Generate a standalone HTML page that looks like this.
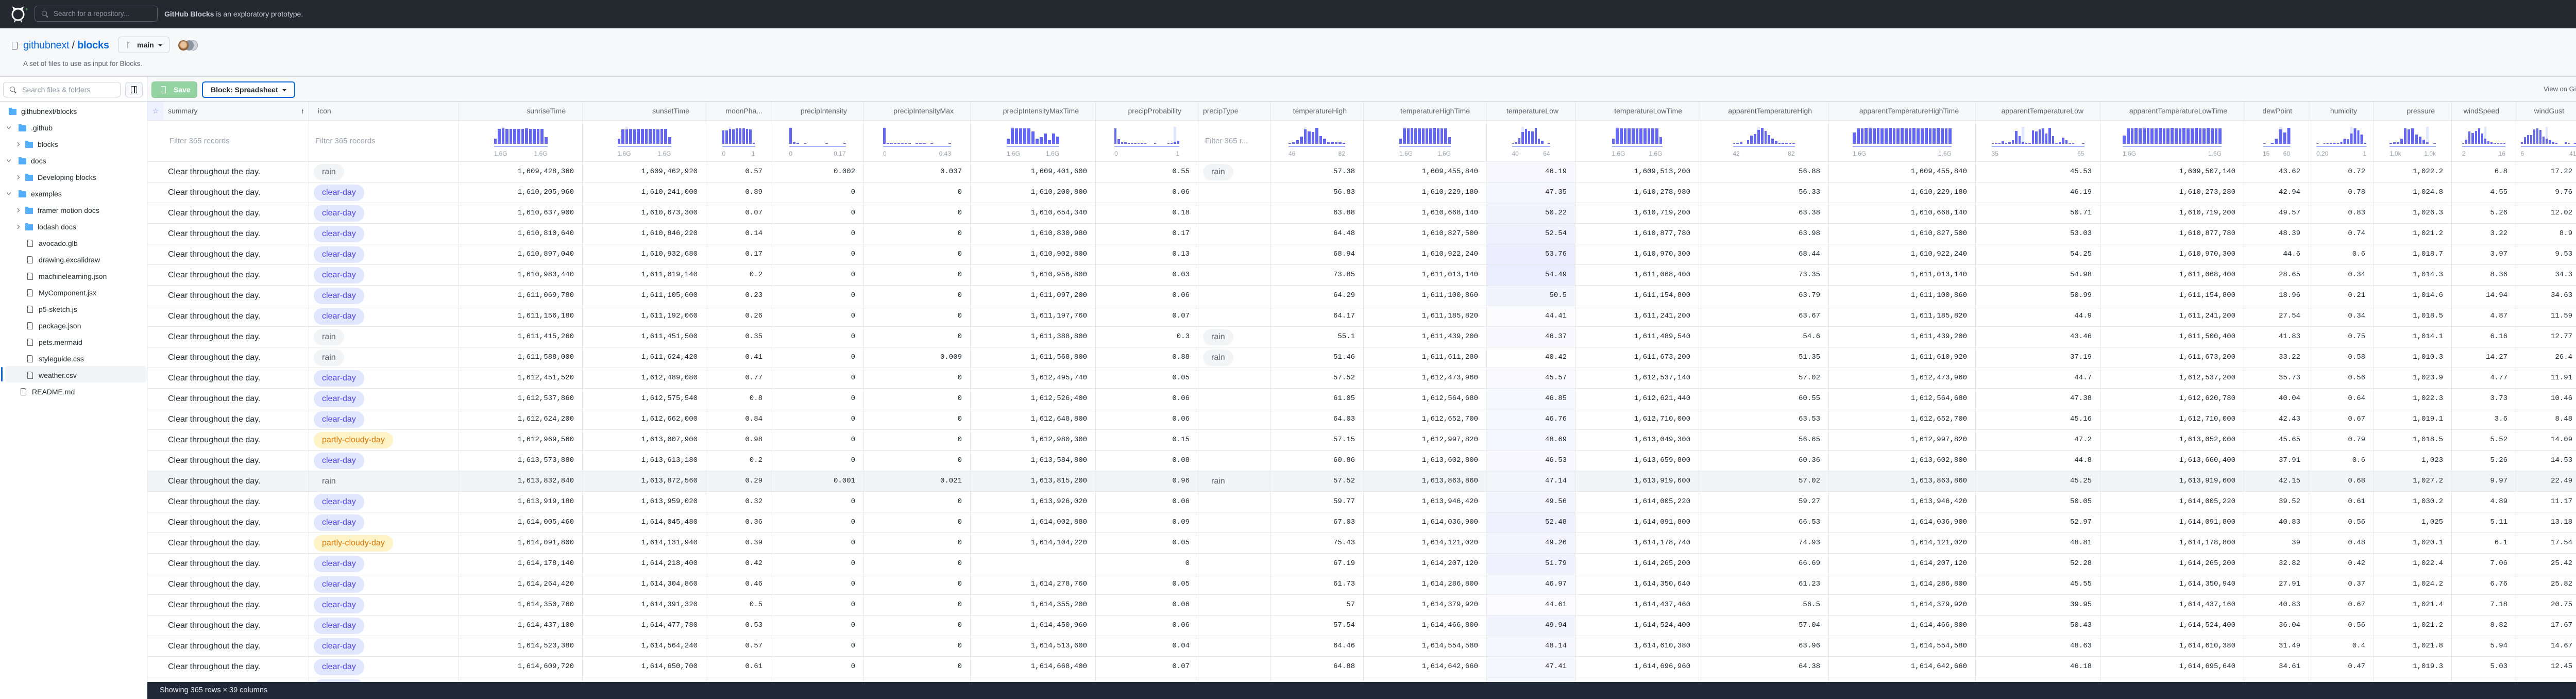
<!DOCTYPE html>
<html><head><meta charset="utf-8"><style>
*{box-sizing:border-box}
html,body{margin:0;width:5113px;height:1356px;overflow:hidden}
body{background:#fff;font-family:"Liberation Sans",sans-serif;color:#24292f;position:relative}
.top{position:absolute;left:0;top:0;width:5113px;height:55px;background:#24292f}
.sbox{position:absolute;left:67px;top:11px;width:239px;height:31px;border:1px solid #57606a;border-radius:6px;color:#8c959f;font-size:13.5px;line-height:29px;padding-left:36px}
.mag{position:absolute;width:10px;height:10px;border:1.5px solid currentColor;border-radius:50%}
.mag:after{content:"";position:absolute;width:5px;height:1.5px;background:currentColor;left:7px;top:9px;transform:rotate(45deg)}
.proto{position:absolute;left:319px;top:18px;font-size:14px;color:#c9d1d9;line-height:18px}
.repo{position:absolute;left:0;top:55px;width:5113px;height:94px;background:#f6f8fa;border-bottom:1px solid #d0d7de}
.title{position:absolute;left:45px;top:20px;font-size:20px;color:#0969da;line-height:26px;letter-spacing:-.3px}
.branch{position:absolute;left:229px;top:16px;width:100px;height:32px;border:1px solid #d0d7de;border-radius:6px;background:#f6f8fa;font-size:14px;font-weight:bold;line-height:30px;padding-left:36px}
.car{display:inline-block;width:0;height:0;border-left:4px solid transparent;border-right:4px solid transparent;border-top:4px solid #24292f;vertical-align:middle;margin-left:8px}
.desc{position:absolute;left:45px;top:60px;font-size:13.5px;color:#57606a;line-height:18px}
.tool{position:absolute;left:286px;top:149px;width:4827px;height:48px;background:#f6f8fa;border-bottom:1px solid #d0d7de}
.side{position:absolute;left:0;top:149px;width:286px;height:1207px;background:#fff;border-right:1px solid #d0d7de}
.sside{position:absolute;left:0;top:0;width:285px;height:48px;border-bottom:1px solid #d0d7de}
.fsearch{position:absolute;left:6px;top:10px;width:228px;height:30px;border:1px solid #d0d7de;border-radius:6px;font-size:14px;color:#8c959f;line-height:28px;padding-left:36px}
.btn{position:absolute;border:1px solid #d0d7de;border-radius:6px;background:#f6f8fa}
.t{position:absolute;height:32px;line-height:32px;font-size:14px;white-space:nowrap}
.fo{position:absolute;width:15px;height:12px;background:#54aeff;border-radius:1px;top:11px}
.fo:before{content:"";position:absolute;left:0;top:-2px;width:6px;height:3px;background:#54aeff;border-radius:1px 1px 0 0}
.fi{position:absolute;width:11px;height:14px;border:1.5px solid #57606a;border-radius:1px 4px 1px 1px;top:9px}
.ch{position:absolute;width:6px;height:6px;border-right:1.5px solid #57606a;border-bottom:1.5px solid #57606a}
.main{position:absolute;left:286px;top:197px;width:4827px;height:1159px;overflow:hidden}
.r{display:flex;height:40px;border-bottom:1px solid #e5e7eb;width:4924px}
.r>span{flex:none;height:100%;border-right:1px solid #e5e7eb;padding:0 16px;text-align:right;white-space:nowrap;overflow:hidden;font:14px/39px "Liberation Mono",monospace;color:#24292f;position:relative}
.r>span:nth-child(1){width:314px;text-align:left;padding-left:40px;font:16px/39px "Liberation Sans",sans-serif}
.r>span:nth-child(2){width:291px;text-align:left;padding-left:9px;font:16px/39px "Liberation Sans",sans-serif}
.r>span:nth-child(3),.r>span:nth-child(4){width:240px}
.r>span:nth-child(5){width:126px}
.r>span:nth-child(6){width:180px}
.r>span:nth-child(7){width:207px}
.r>span:nth-child(8){width:243px}
.r>span:nth-child(9){width:199px}
.r>span:nth-child(10){width:140px;text-align:left;padding-left:9px;font:16px/39px "Liberation Sans",sans-serif}
.r>span:nth-child(11){width:181px}
.r>span:nth-child(12){width:239px}
.r>span:nth-child(13){width:172px}
.r>span:nth-child(14){width:240px}
.r>span:nth-child(15){width:252px}
.r>span:nth-child(16){width:285px}
.r>span:nth-child(17){width:242px}
.r>span:nth-child(18){width:279px}
.r>span:nth-child(19),.r>span:nth-child(20){width:126px}
.r>span:nth-child(21){width:151px}
.r>span:nth-child(22){width:125px}
.r>span:nth-child(23){width:126px}
.r>span:nth-child(24){width:200px}
.hd{height:37px;background:#f6f8fa}
.hd>span{font:14px/36px "Liberation Sans",sans-serif!important;color:#57606a!important;padding-right:32px}
.hd>span:nth-child(1){padding-left:40px}
.hd>span:nth-child(2){padding-left:17px}
.fl{height:80px}
.fl>span{font:15px/79px "Liberation Sans",sans-serif!important;color:#9ca3af!important}
.fl>span:nth-child(1){padding-left:43px}
.fl>span:nth-child(2){padding-left:12px}
.hv{background:#f3f4f6}
em{font-style:normal;display:inline-block;height:32px;line-height:32px;padding:0 16px;border-radius:16px;vertical-align:middle;font-size:16px}
.pr{background:#f3f4f6;color:#57606a}
.pc{background:#e0e7ff;color:#4f46e5}
.pp{background:#fef3c7;color:#d97706}
.h{position:absolute;top:12px;left:50%;transform:translateX(-50%)}
.b{display:flex;align-items:flex-end;gap:2px;height:33px}
.b i{flex:1;background:#6366f1;display:block}
.b i.l{height:33px!important;background:linear-gradient(to top,#6366f1 var(--h),#e0e7ff var(--h))}
.ax{height:2px;background:#a5b4fc;margin-top:4px}
.lb{display:flex;justify-content:space-between;font:12px/14px "Liberation Sans",sans-serif;color:#9ca3af;margin-top:6px}
.foot{position:absolute;left:286px;top:1323px;width:4827px;height:33px;background:#1f2937;color:#e5e7eb;font-size:14.5px;line-height:33px;padding-left:24px}
</style></head><body>
<div class="top">
<svg style="position:absolute;left:16px;top:12px" width="42" height="32" viewBox="0 0 42 32"><circle cx="19" cy="16" r="11" fill="none" stroke="#fff" stroke-width="3"/><path d="M12 8 L10 3 L16 6 M26 8 L28 3 L22 6" stroke="#fff" stroke-width="2.5" fill="none"/><path d="M14 26 L12 31 M24 26 L26 31" stroke="#fff" stroke-width="2"/><text x="33" y="9" fill="#3fb950" font-size="9" font-family="Liberation Sans">+</text></svg>
<div class="sbox"><span class="mag" style="left:13px;top:9px"></span>Search for a repository...</div>
<div class="proto"><b>GitHub Blocks</b> is an exploratory prototype.</div>
</div>
<div class="repo">
<div style="position:absolute;left:23px;top:26px;width:11px;height:15px;border:1.5px solid #57606a;border-radius:2px"></div>
<div class="title">githubnext<span style="color:#24292f"> / </span><b>blocks</b></div>
<div class="branch"><span style="position:absolute;left:15px;top:0;font-weight:normal">ᚴ</span>main<span class="car"></span></div>
<div style="position:absolute;left:366px;top:23px;width:18px;height:20px;border-radius:50%;background:#d1d5db;border:1px solid #9ca3af"></div>
<div style="position:absolute;left:358px;top:23px;width:18px;height:20px;border-radius:50%;background:#8b949e"></div>
<div style="position:absolute;left:346px;top:23px;width:20px;height:20px;border-radius:50%;background:radial-gradient(circle at 50% 45%,#e8c39e 0 35%,#8b5a2b 60%)"></div>
<div class="desc">A set of files to use as input for Blocks.</div>
</div>
<div class="tool">
<div style="position:absolute;left:8px;top:9px;width:89px;height:32px;background:#94d3a2;border:1px solid #8ac798;border-radius:6px;color:#fff;font-weight:bold;font-size:14px;line-height:30px;padding-left:42px">Save<span style="position:absolute;left:17px;top:8px;width:10px;height:14px;border:1.5px solid #fff;border-radius:1px"></span></div>
<div style="position:absolute;left:106px;top:9px;width:181px;height:32px;border:2px solid #0969da;border-radius:6px;background:#fff;font-weight:bold;font-size:14px;line-height:28px;padding-left:15px">Block: Spreadsheet<span class="car"></span></div>
</div>
<div style="position:absolute;left:4937px;top:165px;width:90px;font-size:13px;color:#57606a;line-height:16px;white-space:nowrap;overflow:hidden">View on GitHub</div>
<div class="btn" style="left:5036px;top:160px;width:29px;height:29px"><div style="position:absolute;left:8px;top:8px;width:11px;height:11px;border:2px dashed #24292f"></div></div>
<div class="btn" style="left:5074px;top:160px;width:33px;height:29px"><div style="position:absolute;left:10px;top:7px;width:12px;height:14px;border:1.5px solid #24292f;border-radius:2px"></div><div style="position:absolute;left:16px;top:7px;width:1.5px;height:14px;background:#24292f"></div></div>
<div class="side">
<div class="sside">
<div class="fsearch"><span class="mag" style="left:12px;top:8px;color:#57606a"></span>Search files &amp; folders</div>
<div class="btn" style="left:243px;top:10px;width:34px;height:30px;background:#f6f8fa"><div style="position:absolute;left:10px;top:7px;width:12px;height:14px;border:1.5px solid #24292f;border-radius:2px"></div><div style="position:absolute;left:16px;top:7px;width:1.5px;height:14px;background:#24292f"></div></div>
</div>
<div style="position:absolute;left:10px;top:561px;width:275px;height:32px;background:#f3f4f6;border-radius:6px"></div>
<div style="position:absolute;left:2px;top:563px;width:3px;height:28px;background:#0969da;border-radius:2px"></div>
<div class="t" style="top:51px;left:0"><span class="fo" style="left:17px"></span><span style="position:absolute;left:41px">githubnext/blocks</span></div>
<div class="t" style="top:83px;left:0"><span class="ch" style="left:14px;top:11px;transform:rotate(45deg)"></span><span class="fo" style="left:36px"></span><span style="position:absolute;left:60px">.github</span></div>
<div class="t" style="top:115px;left:0"><span class="ch" style="left:31px;top:13px;transform:rotate(-45deg)"></span><span class="fo" style="left:49px"></span><span style="position:absolute;left:73px">blocks</span></div>
<div class="t" style="top:147px;left:0"><span class="ch" style="left:14px;top:11px;transform:rotate(45deg)"></span><span class="fo" style="left:36px"></span><span style="position:absolute;left:60px">docs</span></div>
<div class="t" style="top:179px;left:0"><span class="ch" style="left:31px;top:13px;transform:rotate(-45deg)"></span><span class="fo" style="left:49px"></span><span style="position:absolute;left:73px">Developing blocks</span></div>
<div class="t" style="top:211px;left:0"><span class="ch" style="left:14px;top:11px;transform:rotate(45deg)"></span><span class="fo" style="left:36px"></span><span style="position:absolute;left:60px">examples</span></div>
<div class="t" style="top:243px;left:0"><span class="ch" style="left:31px;top:13px;transform:rotate(-45deg)"></span><span class="fo" style="left:49px"></span><span style="position:absolute;left:73px">framer motion docs</span></div>
<div class="t" style="top:275px;left:0"><span class="ch" style="left:31px;top:13px;transform:rotate(-45deg)"></span><span class="fo" style="left:49px"></span><span style="position:absolute;left:73px">lodash docs</span></div>
<div class="t" style="top:307px;left:0"><span class="fi" style="left:53px"></span><span style="position:absolute;left:75px">avocado.glb</span></div>
<div class="t" style="top:339px;left:0"><span class="fi" style="left:53px"></span><span style="position:absolute;left:75px">drawing.excalidraw</span></div>
<div class="t" style="top:371px;left:0"><span class="fi" style="left:53px"></span><span style="position:absolute;left:75px">machinelearning.json</span></div>
<div class="t" style="top:403px;left:0"><span class="fi" style="left:53px"></span><span style="position:absolute;left:75px">MyComponent.jsx</span></div>
<div class="t" style="top:435px;left:0"><span class="fi" style="left:53px"></span><span style="position:absolute;left:75px">p5-sketch.js</span></div>
<div class="t" style="top:467px;left:0"><span class="fi" style="left:53px"></span><span style="position:absolute;left:75px">package.json</span></div>
<div class="t" style="top:499px;left:0"><span class="fi" style="left:53px"></span><span style="position:absolute;left:75px">pets.mermaid</span></div>
<div class="t" style="top:531px;left:0"><span class="fi" style="left:53px"></span><span style="position:absolute;left:75px">styleguide.css</span></div>
<div class="t" style="top:563px;left:0"><span class="fi" style="left:53px"></span><span style="position:absolute;left:75px">weather.csv</span></div>
<div class="t" style="top:595px;left:0"><span class="fi" style="left:40px"></span><span style="position:absolute;left:62px">README.md</span></div>
</div>
<div class="main">
<div class="r hd"><span><div style="position:absolute;left:0;top:0;width:32px;height:36px;background:#eef2ff;color:#818cf8;text-align:center;font-size:14px">☆</div>summary<b style="position:absolute;right:8px;top:0;font-weight:normal;color:#24292f">↑</b></span><span>icon</span><span>sunriseTime</span><span>sunsetTime</span><span style="padding-right:16px">moonPha...</span><span>precipIntensity</span><span>precipIntensityMax</span><span>precipIntensityMaxTime</span><span>precipProbability</span><span>precipType</span><span>temperatureHigh</span><span>temperatureHighTime</span><span>temperatureLow</span><span>temperatureLowTime</span><span>apparentTemperatureHigh</span><span>apparentTemperatureHighTime</span><span>apparentTemperatureLow</span><span>apparentTemperatureLowTime</span><span>dewPoint</span><span>humidity</span><span>pressure</span><span>windSpeed</span><span>windGust</span><span></span></div>
<div class="r fl"><span>Filter 365 records</span><span>Filter 365 records</span>
<span><div class="h" style="width:104px"><div class="b"><i style="height:10px"></i><i style="height:29px"></i><i class="l" style="--h:30px"></i><i style="height:29px"></i><i style="height:29px"></i><i style="height:29px"></i><i style="height:29px"></i><i style="height:29px"></i><i style="height:30px"></i><i style="height:29px"></i><i style="height:29px"></i><i style="height:29px"></i><i style="height:29px"></i><i style="height:13px"></i></div><div class="ax"></div><div class="lb"><span>1.6G</span><span>1.6G</span></div></div></span>
<span><div class="h" style="width:104px"><div class="b"><i style="height:10px"></i><i style="height:28px"></i><i class="l" style="--h:28px"></i><i style="height:29px"></i><i style="height:28px"></i><i style="height:29px"></i><i style="height:29px"></i><i style="height:29px"></i><i style="height:29px"></i><i style="height:29px"></i><i style="height:28px"></i><i style="height:29px"></i><i style="height:29px"></i><i style="height:13px"></i></div><div class="ax"></div><div class="lb"><span>1.6G</span><span>1.6G</span></div></div></span>
<span><div class="h" style="width:64px"><div class="b"><i style="height:26px"></i><i style="height:26px"></i><i class="l" style="--h:29px"></i><i style="height:28px"></i><i style="height:30px"></i><i style="height:30px"></i><i style="height:30px"></i><i style="height:29px"></i><i style="height:28px"></i><i style="height:2px"></i></div><div class="ax"></div><div class="lb"><span>0</span><span>1</span></div></div></span>
<span><div class="h" style="width:110px"><div class="b"><i class="l" style="--h:31px"></i><i style="height:3px"></i><i style="height:2px"></i><i style="height:0"></i><i style="height:1px"></i><i style="height:0"></i><i style="height:0"></i><i style="height:0"></i><i style="height:0"></i><i style="height:0"></i><i style="height:1px"></i><i style="height:0"></i><i style="height:0"></i><i style="height:0"></i><i style="height:0"></i><i style="height:1px"></i></div><div class="ax"></div><div class="lb"><span>0</span><span>0.17</span></div></div></span>
<span><div class="h" style="width:132px"><div class="b"><i class="l" style="--h:31px"></i><i style="height:1px"></i><i style="height:1px"></i><i style="height:1px"></i><i style="height:1px"></i><i style="height:1px"></i><i style="height:1px"></i><i style="height:1px"></i><i style="height:0"></i><i style="height:1px"></i><i style="height:1px"></i><i style="height:1px"></i><i style="height:0"></i><i style="height:1px"></i><i style="height:0"></i><i style="height:0"></i><i style="height:0"></i><i style="height:0"></i><i style="height:1px"></i></div><div class="ax"></div><div class="lb"><span>0</span><span>0.43</span></div></div></span>
<span><div class="h" style="width:102px"><div class="b"><i style="height:10px"></i><i class="l" style="--h:30px"></i><i style="height:30px"></i><i style="height:30px"></i><i style="height:30px"></i><i style="height:30px"></i><i style="height:24px"></i><i style="height:10px"></i><i style="height:13px"></i><i style="height:20px"></i><i style="height:7px"></i><i style="height:20px"></i><i style="height:14px"></i></div><div class="ax"></div><div class="lb"><span>1.6G</span><span>1.6G</span></div></div></span>
<span><div class="h" style="width:126px"><div class="b"><i style="height:30px"></i><i style="height:9px"></i><i style="height:3px"></i><i style="height:3px"></i><i style="height:2px"></i><i style="height:2px"></i><i style="height:1px"></i><i style="height:1px"></i><i style="height:1px"></i><i style="height:1px"></i><i style="height:0"></i><i style="height:0"></i><i style="height:1px"></i><i style="height:0"></i><i style="height:0"></i><i style="height:0"></i><i style="height:1px"></i><i style="height:2px"></i><i class="l" style="--h:4px"></i><i style="height:6px"></i></div><div class="ax"></div><div class="lb"><span>0</span><span>1</span></div></div></span>
<span style="padding-left:13px">Filter 365 r...</span>
<span><div class="h" style="width:110px"><div class="b"><i style="height:1px"></i><i style="height:3px"></i><i style="height:7px"></i><i style="height:14px"></i><i class="l" style="--h:28px"></i><i style="height:24px"></i><i style="height:23px"></i><i style="height:31px"></i><i style="height:15px"></i><i style="height:10px"></i><i style="height:3px"></i><i style="height:4px"></i><i style="height:3px"></i><i style="height:3px"></i><i style="height:2px"></i></div><div class="ax"></div><div class="lb"><span>46</span><span>82</span></div></div></span>
<span><div class="h" style="width:100px"><div class="b"><i style="height:10px"></i><i class="l" style="--h:30px"></i><i style="height:30px"></i><i style="height:31px"></i><i style="height:30px"></i><i style="height:30px"></i><i style="height:30px"></i><i style="height:30px"></i><i style="height:30px"></i><i style="height:31px"></i><i style="height:30px"></i><i style="height:30px"></i><i style="height:30px"></i><i style="height:13px"></i></div><div class="ax"></div><div class="lb"><span>1.6G</span><span>1.6G</span></div></div></span>
<span><div class="h" style="width:74px"><div class="b"><i style="height:1px"></i><i style="height:3px"></i><i style="height:11px"></i><i class="l" style="--h:23px"></i><i style="height:29px"></i><i style="height:25px"></i><i style="height:24px"></i><i style="height:31px"></i><i style="height:10px"></i><i style="height:6px"></i><i style="height:0"></i><i style="height:1px"></i></div><div class="ax"></div><div class="lb"><span>40</span><span>64</span></div></div></span>
<span><div class="h" style="width:98px"><div class="b"><i style="height:10px"></i><i class="l" style="--h:30px"></i><i style="height:30px"></i><i style="height:30px"></i><i style="height:30px"></i><i style="height:30px"></i><i style="height:30px"></i><i style="height:30px"></i><i style="height:30px"></i><i style="height:30px"></i><i style="height:30px"></i><i style="height:30px"></i><i style="height:13px"></i></div><div class="ax"></div><div class="lb"><span>1.6G</span><span>1.6G</span></div></div></span>
<span><div class="h" style="width:120px"><div class="b"><i style="height:1px"></i><i style="height:2px"></i><i style="height:3px"></i><i style="height:0"></i><i style="height:7px"></i><i style="height:16px"></i><i style="height:19px"></i><i class="l" style="--h:27px"></i><i style="height:31px"></i><i style="height:25px"></i><i style="height:17px"></i><i style="height:10px"></i><i style="height:6px"></i><i style="height:2px"></i><i style="height:2px"></i><i style="height:2px"></i><i style="height:1px"></i><i style="height:1px"></i></div><div class="ax"></div><div class="lb"><span>42</span><span>82</span></div></div></span>
<span><div class="h" style="width:192px"><div class="b"><i style="height:22px"></i><i style="height:30px"></i><i style="height:30px"></i><i style="height:31px"></i><i class="l" style="--h:30px"></i><i style="height:30px"></i><i style="height:31px"></i><i style="height:30px"></i><i style="height:30px"></i><i style="height:31px"></i><i style="height:30px"></i><i style="height:30px"></i><i style="height:31px"></i><i style="height:30px"></i><i style="height:30px"></i><i style="height:31px"></i><i style="height:30px"></i><i style="height:30px"></i><i style="height:31px"></i><i style="height:30px"></i><i style="height:30px"></i><i style="height:31px"></i><i style="height:30px"></i><i style="height:30px"></i><i style="height:30px"></i></div><div class="ax"></div><div class="lb"><span>1.6G</span><span>1.6G</span></div></div></span>
<span><div class="h" style="width:180px"><div class="b"><i style="height:1px"></i><i style="height:1px"></i><i style="height:2px"></i><i style="height:5px"></i><i style="height:2px"></i><i style="height:3px"></i><i style="height:7px"></i><i style="height:25px"></i><i style="height:15px"></i><i class="l" style="--h:4px"></i><i style="height:2px"></i><i style="height:1px"></i><i style="height:26px"></i><i style="height:24px"></i><i style="height:28px"></i><i style="height:30px"></i><i style="height:20px"></i><i style="height:31px"></i><i style="height:15px"></i><i style="height:1px"></i><i style="height:4px"></i><i style="height:12px"></i><i style="height:7px"></i><i style="height:1px"></i><i style="height:1px"></i><i style="height:0"></i><i style="height:0"></i><i style="height:1px"></i></div><div class="ax"></div><div class="lb"><span>35</span><span>65</span></div></div></span>
<span><div class="h" style="width:192px"><div class="b"><i style="height:16px"></i><i style="height:30px"></i><i style="height:30px"></i><i style="height:31px"></i><i style="height:30px"></i><i class="l" style="--h:30px"></i><i style="height:31px"></i><i style="height:30px"></i><i style="height:30px"></i><i style="height:31px"></i><i style="height:30px"></i><i style="height:30px"></i><i style="height:31px"></i><i style="height:30px"></i><i style="height:30px"></i><i style="height:31px"></i><i style="height:30px"></i><i style="height:30px"></i><i style="height:31px"></i><i style="height:30px"></i><i style="height:30px"></i><i style="height:31px"></i><i style="height:30px"></i><i style="height:30px"></i><i style="height:30px"></i></div><div class="ax"></div><div class="lb"><span>1.6G</span><span>1.6G</span></div></div></span>
<span><div class="h" style="width:53px"><div class="b"><i style="height:1px"></i><i style="height:0"></i><i style="height:2px"></i><i style="height:10px"></i><i class="l" style="--h:28px"></i><i style="height:22px"></i><i style="height:31px"></i></div><div class="ax"></div><div class="lb"><span>15</span><span>60</span></div></div></span>
<span><div class="h" style="width:97px"><div class="b"><i style="height:1px"></i><i style="height:0"></i><i style="height:1px"></i><i style="height:1px"></i><i style="height:2px"></i><i style="height:2px"></i><i style="height:1px"></i><i style="height:4px"></i><i style="height:10px"></i><i style="height:9px"></i><i class="l" style="--h:20px"></i><i style="height:30px"></i><i style="height:26px"></i><i style="height:18px"></i><i style="height:2px"></i></div><div class="ax"></div><div class="lb"><span>0.20</span><span>1</span></div></div></span>
<span><div class="h" style="width:90px"><div class="b"><i style="height:2px"></i><i style="height:3px"></i><i style="height:3px"></i><i style="height:10px"></i><i style="height:30px"></i><i style="height:28px"></i><i style="height:30px"></i><i style="height:18px"></i><i style="height:14px"></i><i style="height:8px"></i><i class="l" style="--h:3px"></i><i style="height:0"></i><i style="height:1px"></i></div><div class="ax"></div><div class="lb"><span>1.0k</span><span>1.0k</span></div></div></span>
<span><div class="h" style="width:84px"><div class="b"><i style="height:1px"></i><i style="height:8px"></i><i style="height:24px"></i><i style="height:21px"></i><i style="height:25px"></i><i style="height:30px"></i><i style="height:20px"></i><i class="l" style="--h:10px"></i><i style="height:5px"></i><i style="height:3px"></i><i style="height:1px"></i><i style="height:1px"></i><i style="height:1px"></i><i style="height:1px"></i></div><div class="ax"></div><div class="lb"><span>2</span><span>16</span></div></div></span>
<span><div class="h" style="width:108px"><div class="b"><i style="height:3px"></i><i style="height:13px"></i><i style="height:17px"></i><i style="height:17px"></i><i style="height:28px"></i><i style="height:30px"></i><i style="height:27px"></i><i style="height:14px"></i><i class="l" style="--h:10px"></i><i style="height:7px"></i><i style="height:4px"></i><i style="height:2px"></i><i style="height:0"></i><i style="height:0"></i><i style="height:3px"></i><i style="height:1px"></i><i style="height:0"></i><i style="height:1px"></i></div><div class="ax"></div><div class="lb"><span>6</span><span>41</span></div></div></span>
<span><div class="h" style="width:104px;left:70px;transform:none"><div class="b"><i style="height:9px"></i><i style="height:30px"></i><i class="l" style="--h:30px"></i><i style="height:30px"></i><i style="height:30px"></i><i style="height:30px"></i><i style="height:30px"></i><i style="height:30px"></i><i style="height:30px"></i><i style="height:30px"></i><i style="height:30px"></i><i style="height:30px"></i><i style="height:30px"></i><i style="height:13px"></i></div><div class="ax"></div><div class="lb"><span>1.6G</span><span>1.6G</span></div></div></span>
</div>
<div class="r"><span>Clear throughout the day.</span><span><em class="pr">rain</em></span><span>1,609,428,360</span><span>1,609,462,920</span><span>0.57</span><span>0.002</span><span>0.037</span><span>1,609,401,600</span><span>0.55</span><span><em class="pr">rain</em></span><span>57.38</span><span>1,609,455,840</span><span style="background:#f8f8fe">46.19</span><span>1,609,513,200</span><span>56.88</span><span>1,609,455,840</span><span>45.53</span><span>1,609,507,140</span><span>43.62</span><span>0.72</span><span>1,022.2</span><span>6.8</span><span>17.22</span><span></span></div>
<div class="r"><span>Clear throughout the day.</span><span><em class="pc">clear-day</em></span><span>1,610,205,960</span><span>1,610,241,000</span><span>0.89</span><span>0</span><span>0</span><span>1,610,200,800</span><span>0.06</span><span></span><span>56.83</span><span>1,610,229,180</span><span style="background:#f6f7fe">47.35</span><span>1,610,278,980</span><span>56.33</span><span>1,610,229,180</span><span>46.19</span><span>1,610,273,280</span><span>42.94</span><span>0.78</span><span>1,024.8</span><span>4.55</span><span>9.76</span><span></span></div>
<div class="r"><span>Clear throughout the day.</span><span><em class="pc">clear-day</em></span><span>1,610,637,900</span><span>1,610,673,300</span><span>0.07</span><span>0</span><span>0</span><span>1,610,654,340</span><span>0.18</span><span></span><span>63.88</span><span>1,610,668,140</span><span style="background:#f2f3fe">50.22</span><span>1,610,719,200</span><span>63.38</span><span>1,610,668,140</span><span>50.71</span><span>1,610,719,200</span><span>49.57</span><span>0.83</span><span>1,026.3</span><span>5.26</span><span>12.02</span><span></span></div>
<div class="r"><span>Clear throughout the day.</span><span><em class="pc">clear-day</em></span><span>1,610,810,640</span><span>1,610,846,220</span><span>0.14</span><span>0</span><span>0</span><span>1,610,830,980</span><span>0.17</span><span></span><span>64.48</span><span>1,610,827,500</span><span style="background:#eef0fe">52.54</span><span>1,610,877,780</span><span>63.98</span><span>1,610,827,500</span><span>53.03</span><span>1,610,877,780</span><span>48.39</span><span>0.74</span><span>1,021.2</span><span>3.22</span><span>8.9</span><span></span></div>
<div class="r"><span>Clear throughout the day.</span><span><em class="pc">clear-day</em></span><span>1,610,897,040</span><span>1,610,932,680</span><span>0.17</span><span>0</span><span>0</span><span>1,610,902,800</span><span>0.13</span><span></span><span>68.94</span><span>1,610,922,240</span><span style="background:#eceefe">53.76</span><span>1,610,970,300</span><span>68.44</span><span>1,610,922,240</span><span>54.25</span><span>1,610,970,300</span><span>44.6</span><span>0.6</span><span>1,018.7</span><span>3.97</span><span>9.53</span><span></span></div>
<div class="r"><span>Clear throughout the day.</span><span><em class="pc">clear-day</em></span><span>1,610,983,440</span><span>1,611,019,140</span><span>0.2</span><span>0</span><span>0</span><span>1,610,956,800</span><span>0.03</span><span></span><span>73.85</span><span>1,611,013,140</span><span style="background:#eaedfe">54.49</span><span>1,611,068,400</span><span>73.35</span><span>1,611,013,140</span><span>54.98</span><span>1,611,068,400</span><span>28.65</span><span>0.34</span><span>1,014.3</span><span>8.36</span><span>34.3</span><span></span></div>
<div class="r"><span>Clear throughout the day.</span><span><em class="pc">clear-day</em></span><span>1,611,069,780</span><span>1,611,105,600</span><span>0.23</span><span>0</span><span>0</span><span>1,611,097,200</span><span>0.06</span><span></span><span>64.29</span><span>1,611,100,860</span><span style="background:#f1f3fe">50.5</span><span>1,611,154,800</span><span>63.79</span><span>1,611,100,860</span><span>50.99</span><span>1,611,154,800</span><span>18.96</span><span>0.21</span><span>1,014.6</span><span>14.94</span><span>34.63</span><span></span></div>
<div class="r"><span>Clear throughout the day.</span><span><em class="pc">clear-day</em></span><span>1,611,156,180</span><span>1,611,192,060</span><span>0.26</span><span>0</span><span>0</span><span>1,611,197,760</span><span>0.07</span><span></span><span>64.17</span><span>1,611,185,820</span><span style="background:#fcfcff">44.41</span><span>1,611,241,200</span><span>63.67</span><span>1,611,185,820</span><span>44.9</span><span>1,611,241,200</span><span>27.54</span><span>0.34</span><span>1,018.5</span><span>4.87</span><span>11.59</span><span></span></div>
<div class="r"><span>Clear throughout the day.</span><span><em class="pr">rain</em></span><span>1,611,415,260</span><span>1,611,451,500</span><span>0.35</span><span>0</span><span>0</span><span>1,611,388,800</span><span>0.3</span><span><em class="pr">rain</em></span><span>55.1</span><span>1,611,439,200</span><span style="background:#f8f8fe">46.37</span><span>1,611,489,540</span><span>54.6</span><span>1,611,439,200</span><span>43.46</span><span>1,611,500,400</span><span>41.83</span><span>0.75</span><span>1,014.1</span><span>6.16</span><span>12.77</span><span></span></div>
<div class="r"><span>Clear throughout the day.</span><span><em class="pr">rain</em></span><span>1,611,588,000</span><span>1,611,624,420</span><span>0.41</span><span>0</span><span>0.009</span><span>1,611,568,800</span><span>0.88</span><span><em class="pr">rain</em></span><span>51.46</span><span>1,611,611,280</span><span>40.42</span><span>1,611,673,200</span><span>51.35</span><span>1,611,610,920</span><span>37.19</span><span>1,611,673,200</span><span>33.22</span><span>0.58</span><span>1,010.3</span><span>14.27</span><span>26.4</span><span></span></div>
<div class="r"><span>Clear throughout the day.</span><span><em class="pc">clear-day</em></span><span>1,612,451,520</span><span>1,612,489,080</span><span>0.77</span><span>0</span><span>0</span><span>1,612,495,740</span><span>0.05</span><span></span><span>57.52</span><span>1,612,473,960</span><span style="background:#f9f9ff">45.57</span><span>1,612,537,140</span><span>57.02</span><span>1,612,473,960</span><span>44.7</span><span>1,612,537,200</span><span>35.73</span><span>0.56</span><span>1,023.9</span><span>4.77</span><span>11.91</span><span></span></div>
<div class="r"><span>Clear throughout the day.</span><span><em class="pc">clear-day</em></span><span>1,612,537,860</span><span>1,612,575,540</span><span>0.8</span><span>0</span><span>0</span><span>1,612,526,400</span><span>0.06</span><span></span><span>61.05</span><span>1,612,564,680</span><span style="background:#f7f8fe">46.85</span><span>1,612,621,440</span><span>60.55</span><span>1,612,564,680</span><span>47.38</span><span>1,612,620,780</span><span>40.04</span><span>0.64</span><span>1,022.3</span><span>3.73</span><span>10.46</span><span></span></div>
<div class="r"><span>Clear throughout the day.</span><span><em class="pc">clear-day</em></span><span>1,612,624,200</span><span>1,612,662,000</span><span>0.84</span><span>0</span><span>0</span><span>1,612,648,800</span><span>0.06</span><span></span><span>64.03</span><span>1,612,652,700</span><span style="background:#f7f8fe">46.76</span><span>1,612,710,000</span><span>63.53</span><span>1,612,652,700</span><span>45.16</span><span>1,612,710,000</span><span>42.43</span><span>0.67</span><span>1,019.1</span><span>3.6</span><span>8.48</span><span></span></div>
<div class="r"><span>Clear throughout the day.</span><span><em class="pp">partly-cloudy-day</em></span><span>1,612,969,560</span><span>1,613,007,900</span><span>0.98</span><span>0</span><span>0</span><span>1,612,980,300</span><span>0.15</span><span></span><span>57.15</span><span>1,612,997,820</span><span style="background:#f4f5fe">48.69</span><span>1,613,049,300</span><span>56.65</span><span>1,612,997,820</span><span>47.2</span><span>1,613,052,000</span><span>45.65</span><span>0.79</span><span>1,018.5</span><span>5.52</span><span>14.09</span><span></span></div>
<div class="r"><span>Clear throughout the day.</span><span><em class="pc">clear-day</em></span><span>1,613,573,880</span><span>1,613,613,180</span><span>0.2</span><span>0</span><span>0</span><span>1,613,584,800</span><span>0.08</span><span></span><span>60.86</span><span>1,613,602,800</span><span style="background:#f8f8fe">46.53</span><span>1,613,659,800</span><span>60.36</span><span>1,613,602,800</span><span>44.8</span><span>1,613,660,400</span><span>37.91</span><span>0.6</span><span>1,023</span><span>5.26</span><span>14.53</span><span></span></div>
<div class="r hv"><span>Clear throughout the day.</span><span><em class="pr">rain</em></span><span>1,613,832,840</span><span>1,613,872,560</span><span>0.29</span><span>0.001</span><span>0.021</span><span>1,613,815,200</span><span>0.96</span><span><em class="pr">rain</em></span><span>57.52</span><span>1,613,863,860</span><span style="background:#f4f5fb">47.14</span><span>1,613,919,600</span><span>57.02</span><span>1,613,863,860</span><span>45.25</span><span>1,613,919,600</span><span>42.15</span><span>0.68</span><span>1,027.2</span><span>9.97</span><span>22.49</span><span></span></div>
<div class="r"><span>Clear throughout the day.</span><span><em class="pc">clear-day</em></span><span>1,613,919,180</span><span>1,613,959,020</span><span>0.32</span><span>0</span><span>0</span><span>1,613,926,020</span><span>0.06</span><span></span><span>59.77</span><span>1,613,946,420</span><span style="background:#f3f4fe">49.56</span><span>1,614,005,220</span><span>59.27</span><span>1,613,946,420</span><span>50.05</span><span>1,614,005,220</span><span>39.52</span><span>0.61</span><span>1,030.2</span><span>4.89</span><span>11.17</span><span></span></div>
<div class="r"><span>Clear throughout the day.</span><span><em class="pc">clear-day</em></span><span>1,614,005,460</span><span>1,614,045,480</span><span>0.36</span><span>0</span><span>0</span><span>1,614,002,880</span><span>0.09</span><span></span><span>67.03</span><span>1,614,036,900</span><span style="background:#eef0fe">52.48</span><span>1,614,091,800</span><span>66.53</span><span>1,614,036,900</span><span>52.97</span><span>1,614,091,800</span><span>40.83</span><span>0.56</span><span>1,025</span><span>5.11</span><span>13.18</span><span></span></div>
<div class="r"><span>Clear throughout the day.</span><span><em class="pp">partly-cloudy-day</em></span><span>1,614,091,800</span><span>1,614,131,940</span><span>0.39</span><span>0</span><span>0</span><span>1,614,104,220</span><span>0.05</span><span></span><span>75.43</span><span>1,614,121,020</span><span style="background:#f3f4fe">49.26</span><span>1,614,178,740</span><span>74.93</span><span>1,614,121,020</span><span>48.81</span><span>1,614,178,800</span><span>39</span><span>0.48</span><span>1,020.1</span><span>6.1</span><span>17.54</span><span></span></div>
<div class="r"><span>Clear throughout the day.</span><span><em class="pc">clear-day</em></span><span>1,614,178,140</span><span>1,614,218,400</span><span>0.42</span><span>0</span><span>0</span><span></span><span>0</span><span></span><span>67.19</span><span>1,614,207,120</span><span style="background:#eff1fe">51.79</span><span>1,614,265,200</span><span>66.69</span><span>1,614,207,120</span><span>52.28</span><span>1,614,265,200</span><span>32.82</span><span>0.42</span><span>1,022.4</span><span>7.06</span><span>25.42</span><span></span></div>
<div class="r"><span>Clear throughout the day.</span><span><em class="pc">clear-day</em></span><span>1,614,264,420</span><span>1,614,304,860</span><span>0.46</span><span>0</span><span>0</span><span>1,614,278,760</span><span>0.05</span><span></span><span>61.73</span><span>1,614,286,800</span><span style="background:#f7f8fe">46.97</span><span>1,614,350,640</span><span>61.23</span><span>1,614,286,800</span><span>45.55</span><span>1,614,350,940</span><span>27.91</span><span>0.37</span><span>1,024.2</span><span>6.76</span><span>25.82</span><span></span></div>
<div class="r"><span>Clear throughout the day.</span><span><em class="pc">clear-day</em></span><span>1,614,350,760</span><span>1,614,391,320</span><span>0.5</span><span>0</span><span>0</span><span>1,614,355,200</span><span>0.06</span><span></span><span>57</span><span>1,614,379,920</span><span style="background:#fbfbff">44.61</span><span>1,614,437,460</span><span>56.5</span><span>1,614,379,920</span><span>39.95</span><span>1,614,437,160</span><span>40.83</span><span>0.67</span><span>1,021.4</span><span>7.18</span><span>20.75</span><span></span></div>
<div class="r"><span>Clear throughout the day.</span><span><em class="pc">clear-day</em></span><span>1,614,437,100</span><span>1,614,477,780</span><span>0.53</span><span>0</span><span>0</span><span>1,614,450,960</span><span>0.06</span><span></span><span>57.54</span><span>1,614,466,800</span><span style="background:#f2f3fe">49.94</span><span>1,614,524,400</span><span>57.04</span><span>1,614,466,800</span><span>50.43</span><span>1,614,524,400</span><span>36.04</span><span>0.56</span><span>1,021.2</span><span>8.82</span><span>17.67</span><span></span></div>
<div class="r"><span>Clear throughout the day.</span><span><em class="pc">clear-day</em></span><span>1,614,523,380</span><span>1,614,564,240</span><span>0.57</span><span>0</span><span>0</span><span>1,614,513,600</span><span>0.04</span><span></span><span>64.46</span><span>1,614,554,580</span><span style="background:#f5f6fe">48.14</span><span>1,614,610,380</span><span>63.96</span><span>1,614,554,580</span><span>48.63</span><span>1,614,610,380</span><span>31.49</span><span>0.4</span><span>1,021.8</span><span>5.94</span><span>14.67</span><span></span></div>
<div class="r"><span>Clear throughout the day.</span><span><em class="pc">clear-day</em></span><span>1,614,609,720</span><span>1,614,650,700</span><span>0.61</span><span>0</span><span>0</span><span>1,614,668,400</span><span>0.07</span><span></span><span>64.88</span><span>1,614,642,660</span><span style="background:#f6f7fe">47.41</span><span>1,614,696,960</span><span>64.38</span><span>1,614,642,660</span><span>46.18</span><span>1,614,695,640</span><span>34.61</span><span>0.47</span><span>1,019.3</span><span>5.03</span><span>12.45</span><span></span></div>
<div class="r"><span>Clear throughout the day.</span><span><em class="pc">clear-day</em></span><span>1,614,696,060</span><span>1,614,737,160</span><span>0.64</span><span>0</span><span>0</span><span>1,614,700,000</span><span>0.05</span><span></span><span>62.1</span><span>1,614,729,000</span><span style="background:#f6f7fe">47.5</span><span>1,614,783,000</span><span>61.6</span><span>1,614,729,000</span><span>46.2</span><span>1,614,783,000</span><span>35.1</span><span>0.5</span><span>1,020.1</span><span>5.2</span><span>12.1</span><span></span></div>
</div>
<div class="foot">Showing 365 rows × 39 columns</div>
</body></html>
